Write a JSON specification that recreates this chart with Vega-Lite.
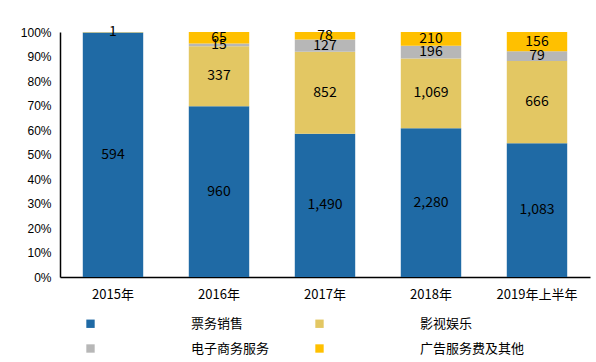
{
  "$schema": "https://vega.github.io/schema/vega-lite/v6.json",
  "width": 530,
  "height": 245,
  "padding": {"left": 5, "top": 25, "right": 6, "bottom": 5},
  "autosize": {"type": "pad"},
  "background": "white",
  "config": {"view": {"stroke": null}, "font": "Liberation Sans"},
  "data": {"values": [
    {"year": "2015年", "series": "票务销售", "order": 1, "value": 594},
    {"year": "2015年", "series": "影视娱乐", "order": 2, "value": 1},
    {"year": "2015年", "series": "电子商务服务", "order": 3, "value": 0},
    {"year": "2015年", "series": "广告服务费及其他", "order": 4, "value": 0},
    {"year": "2016年", "series": "票务销售", "order": 1, "value": 960},
    {"year": "2016年", "series": "影视娱乐", "order": 2, "value": 337},
    {"year": "2016年", "series": "电子商务服务", "order": 3, "value": 15},
    {"year": "2016年", "series": "广告服务费及其他", "order": 4, "value": 65},
    {"year": "2017年", "series": "票务销售", "order": 1, "value": 1490},
    {"year": "2017年", "series": "影视娱乐", "order": 2, "value": 852},
    {"year": "2017年", "series": "电子商务服务", "order": 3, "value": 127},
    {"year": "2017年", "series": "广告服务费及其他", "order": 4, "value": 78},
    {"year": "2018年", "series": "票务销售", "order": 1, "value": 2280},
    {"year": "2018年", "series": "影视娱乐", "order": 2, "value": 1069},
    {"year": "2018年", "series": "电子商务服务", "order": 3, "value": 196},
    {"year": "2018年", "series": "广告服务费及其他", "order": 4, "value": 210},
    {"year": "2019年上半年", "series": "票务销售", "order": 1, "value": 1083},
    {"year": "2019年上半年", "series": "影视娱乐", "order": 2, "value": 666},
    {"year": "2019年上半年", "series": "电子商务服务", "order": 3, "value": 79},
    {"year": "2019年上半年", "series": "广告服务费及其他", "order": 4, "value": 156}
  ]},
  "transform": [
    {"stack": "value", "groupby": ["year"], "sort": [{"field": "order"}], "as": ["y0", "y1"], "offset": "normalize"},
    {"calculate": "(datum.y0 + datum.y1) / 2", "as": "mid"}
  ],
  "encoding": {
    "x": {
      "field": "year", "type": "nominal", "sort": null,
      "scale": {"paddingInner": 0.43, "paddingOuter": 0.215},
      "axis": {"title": null, "labelAngle": 0, "domainColor": "#000", "domainWidth": 1.5, "ticks": false,
               "labelFont": "Noto Sans CJK SC", "labelFontSize": 13, "labelColor": "#000", "labelPadding": 11}
    }
  },
  "layer": [
    {
      "mark": {"type": "bar"},
      "encoding": {
        "y": {"field": "y0", "type": "quantitative", "scale": {"domain": [0, 1]},
              "axis": {"title": null, "format": ".0%", "values": [0,0.1,0.2,0.3,0.4,0.5,0.6,0.7,0.8,0.9,1],
                       "labelOverlap": false,
                       "grid": false, "ticks": false, "domainColor": "#000", "domainWidth": 1.5,
                       "labelFontSize": 12, "labelColor": "#000", "labelPadding": 9, "minExtent": 55, "maxExtent": 55}},
        "y2": {"field": "y1"},
        "color": {
          "field": "series", "type": "nominal",
          "scale": {"domain": ["票务销售", "影视娱乐", "电子商务服务", "广告服务费及其他"],
                    "range": ["#1F6AA5", "#E3C763", "#B7B7B7", "#FFC000"]},
          "legend": {"title": null, "orient": "none", "legendX": 24, "legendY": 285, "columns": 2, "direction": "horizontal",
                     "symbolType": "square", "symbolSize": 70, "symbolStrokeWidth": 0,
                     "labelFont": "Noto Sans CJK SC", "labelFontSize": 13, "labelColor": "#000",
                     "labelOffset": 94, "columnPadding": 43, "rowPadding": 11}
        }
      }
    },
    {
      "transform": [{"filter": "datum.value > 0"}],
      "mark": {"type": "text", "font": "Noto Sans CJK SC", "fontSize": 14, "color": "#000"},
      "encoding": {
        "y": {"field": "mid", "type": "quantitative",
              "axis": {"title": null, "format": ".0%", "values": [0,0.1,0.2,0.3,0.4,0.5,0.6,0.7,0.8,0.9,1],
                       "labelOverlap": false,
                       "grid": false, "ticks": false, "domainColor": "#000", "domainWidth": 1.5,
                       "labelFontSize": 12, "labelColor": "#000", "labelPadding": 9, "minExtent": 55, "maxExtent": 55}},
        "text": {"field": "value", "type": "quantitative", "format": ","}
      }
    }
  ]
}
